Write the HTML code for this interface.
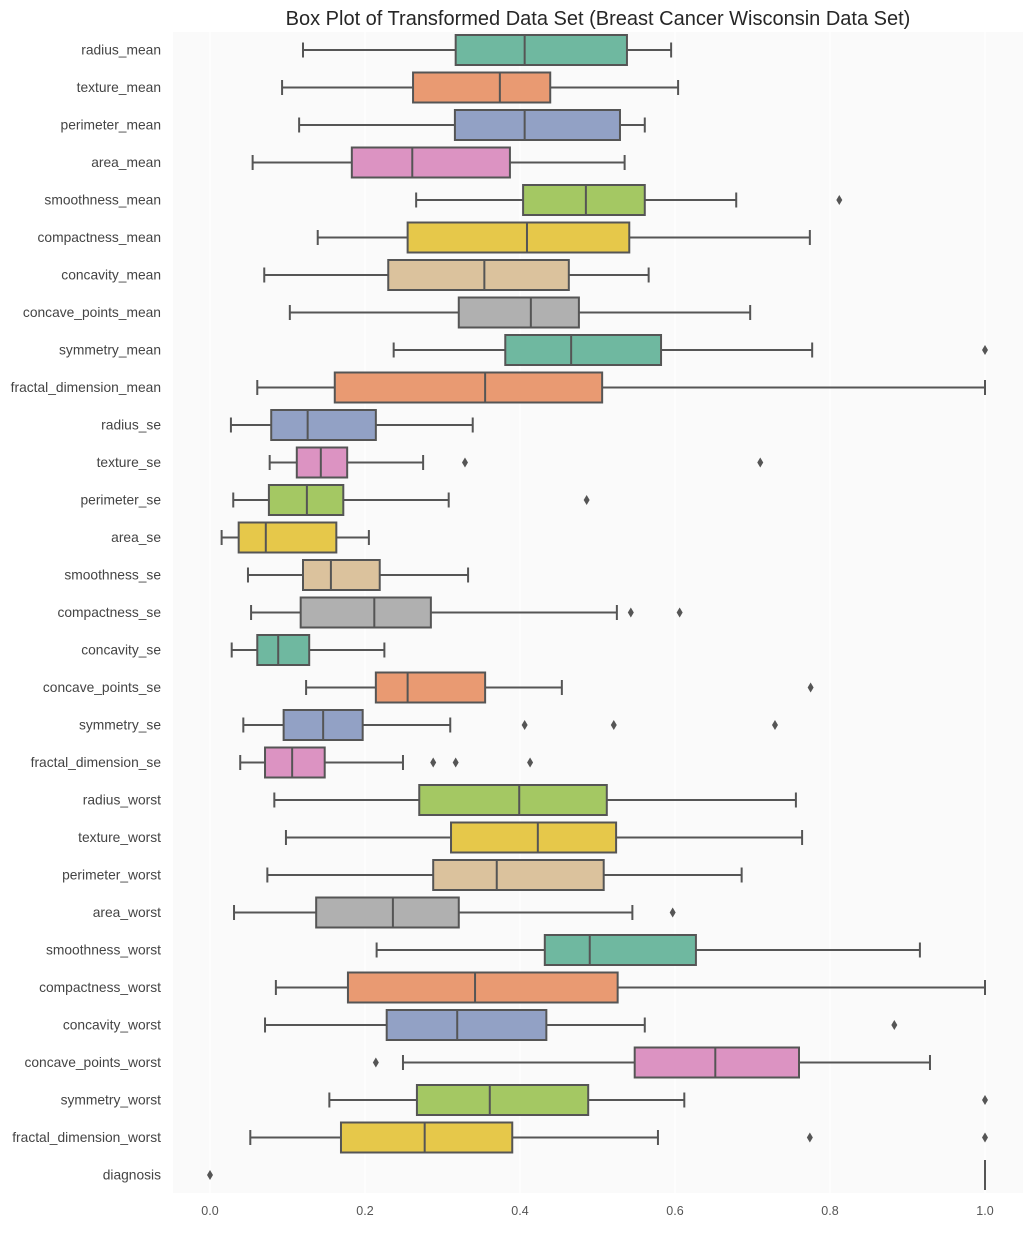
<!DOCTYPE html>
<html><head><meta charset="utf-8"><style>
body{margin:0;background:#fff;}
svg text{font-family:"Liberation Sans",sans-serif;}
</style></head><body>
<svg id="chart" width="1034" height="1228" xmlns="http://www.w3.org/2000/svg">
<rect x="173" y="32" width="850" height="1161" fill="#fafafa"/>
<g id="grid"></g><g id="marks"></g><g id="labels"></g>
<text x="598" y="25" text-anchor="middle" font-size="20" fill="#262626">Box Plot of Transformed Data Set (Breast Cancer Wisconsin Data Set)</text>
</svg>
<script>
const categories=["radius_mean","texture_mean","perimeter_mean","area_mean","smoothness_mean","compactness_mean","concavity_mean","concave_points_mean","symmetry_mean","fractal_dimension_mean","radius_se","texture_se","perimeter_se","area_se","smoothness_se","compactness_se","concavity_se","concave_points_se","symmetry_se","fractal_dimension_se","radius_worst","texture_worst","perimeter_worst","area_worst","smoothness_worst","compactness_worst","concavity_worst","concave_points_worst","symmetry_worst","fractal_dimension_worst","diagnosis"];
const whiskerLow=[.12,.093,.115,.055,.266,.139,.070,.103,.237,.061,.027,.077,.030,.015,.049,.053,.028,.124,.043,.039,.083,.098,.074,.031,.215,.085,.071,.249,.154,.052,1];
const q1=[.317,.262,.316,.183,.404,.255,.230,.321,.381,.161,.079,.112,.076,.037,.120,.117,.061,.214,.095,.071,.270,.311,.288,.137,.432,.178,.228,.548,.267,.169,1];
const median=[.406,.374,.406,.261,.485,.409,.354,.414,.466,.355,.126,.143,.125,.072,.156,.212,.088,.255,.146,.106,.399,.423,.370,.236,.490,.342,.319,.652,.361,.277,1];
const q3=[.538,.439,.529,.387,.561,.541,.463,.476,.582,.506,.214,.177,.172,.163,.219,.285,.128,.355,.197,.148,.512,.524,.508,.321,.627,.526,.434,.760,.488,.390,1];
const whiskerHigh=[.595,.604,.561,.535,.679,.774,.566,.697,.777,1.0,.339,.275,.308,.205,.333,.525,.225,.454,.310,.249,.756,.764,.686,.545,.916,1.0,.561,.929,.612,.578,1];
const outliers=[[],[],[],[],[.812],[],[],[],[1.0],[],[],[.329,.710],[.486],[],[],[.543,.606],[],[.775],[.406,.521,.729],[.288,.317,.413],[],[],[],[.597],[],[],[.883],[.214],[1.0],[.774,1.0],[0]];
const xTicks=[0,0.2,0.4,0.6,0.8,1.0];
const xTickLabels=["0.0","0.2","0.4","0.6","0.8","1.0"];
const colors=["#6fb8a0","#e99a72","#92a1c5","#dc93c2","#a4c863","#e6c84a","#dbc29d","#b0b0b0"];
const NS="http://www.w3.org/2000/svg";
const X=v=>210+v*775, Y=i=>50+i*37.5;
function mk(parent,tag,attrs){const e=document.createElementNS(NS,tag);for(const k in attrs)e.setAttribute(k,attrs[k]);parent.appendChild(e);return e;}
const grid=document.getElementById('grid'),marks=document.getElementById('marks'),labels=document.getElementById('labels');
xTicks.forEach((t,i)=>{
 const l=mk(grid,'line',{x1:X(t),x2:X(t),y1:32,y2:1193,stroke:'#fff','stroke-width':1.2});
 
 
 const tx=mk(labels,'text',{x:X(t),y:1215,'text-anchor':'middle','font-size':12.5,fill:'#555'});
 tx.textContent=xTickLabels[i];
 
 
});
const st={stroke:'#555','stroke-width':2,fill:'none'};
categories.forEach((c,i)=>{
 const y=Y(i),h=15;
 const g=mk(marks,'g',{});
 
 
 mk(g,'line',{x1:X(whiskerLow[i]),x2:X(q1[i]),y1:y,y2:y,...st});
 mk(g,'line',{x1:X(q3[i]),x2:X(whiskerHigh[i]),y1:y,y2:y,...st});
 mk(g,'line',{x1:X(whiskerLow[i]),x2:X(whiskerLow[i]),y1:y-7.5,y2:y+7.5,...st});
 mk(g,'line',{x1:X(whiskerHigh[i]),x2:X(whiskerHigh[i]),y1:y-7.5,y2:y+7.5,...st});
 mk(g,'rect',{x:X(q1[i]),y:y-h,width:Math.max(0,X(q3[i])-X(q1[i])),height:2*h,fill:colors[i%8],stroke:'#555','stroke-width':2});
 mk(g,'line',{x1:X(median[i]),x2:X(median[i]),y1:y-h,y2:y+h,...st});
 outliers[i].forEach(o=>{
  const p=mk(g,'path',{d:`M${X(o)},${y-5}L${X(o)+3},${y}L${X(o)},${y+5}L${X(o)-3},${y}Z`,fill:'#555'});
  
  
 });
 const t=mk(labels,'text',{x:161,y:y+4.5,'text-anchor':'end','font-size':13.8,fill:'#444'});
 t.textContent=c;
 
 
});
</script>
</body></html>
